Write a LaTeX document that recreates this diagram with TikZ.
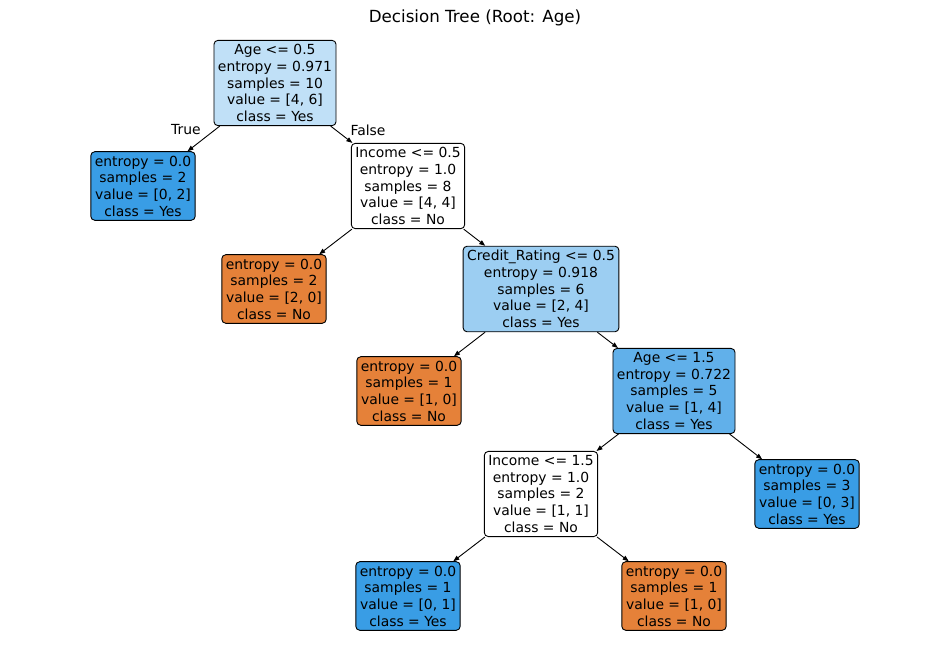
\documentclass[tikz,border=0pt]{standalone}
\usepackage{fontspec}
\setmainfont{DejaVu Sans}
\usetikzlibrary{arrows.meta}
\definecolor{blueA}{HTML}{399DE5}
\definecolor{blueB}{HTML}{61B0EA}
\definecolor{blueC}{HTML}{9CCEF2}
\definecolor{blueD}{HTML}{C0E0F7}
\definecolor{orangeA}{HTML}{E58139}
\begin{document}
\begin{tikzpicture}[x=1pt,y=-1pt,
            > = {Stealth[length=6pt,width=4.5pt,inset=0pt]},
  tree/.style = {draw, rounded corners=4pt, align=center, inner sep=4pt,
                 font=\fontsize{13.9}{16.7}\selectfont, line width=0.9pt},
  edge/.style = {->, line width=0.9pt},
  lbl/.style  = {font=\fontsize{13.9}{16.7}\selectfont}
                        ]
\useasboundingbox (0,0) rectangle (950,658);
\node[font=\fontsize{16.7}{20}\selectfont] (title) at (475,18) {Decision Tree (Root: Age)};
% inner nodes
\node[tree, fill=blueD] (root) at (275,83) {Age <= 0.5\\entropy = 0.971\\samples = 10\\value = [4, 6]\\class = Yes};
\node[tree, fill=white] (inc) at (408,186) {Income <= 0.5\\entropy = 1.0\\samples = 8\\value = [4, 4]\\class = No};
\node[tree, fill=blueC] (cred) at (541,289) {Credit\_Rating <= 0.5\\entropy = 0.918\\samples = 6\\value = [2, 4]\\class = Yes};
\node[tree, fill=blueB] (age) at (674,391) {Age <= 1.5\\entropy = 0.722\\samples = 5\\value = [1, 4]\\class = Yes};
\node[tree, fill=white] (inc2) at (541,494) {Income <= 1.5\\entropy = 1.0\\samples = 2\\value = [1, 1]\\class = No};
% leaves
\node[tree, fill=blueA] (l1) at (143,186) {entropy = 0.0\\samples = 2\\value = [0, 2]\\class = Yes};
\node[tree, fill=orangeA] (l2) at (274,289) {entropy = 0.0\\samples = 2\\value = [2, 0]\\class = No};
\node[tree, fill=orangeA] (l3) at (409,391) {entropy = 0.0\\samples = 1\\value = [1, 0]\\class = No};
\node[tree, fill=blueA] (l4) at (807,494) {entropy = 0.0\\samples = 3\\value = [0, 3]\\class = Yes};
\node[tree, fill=blueA] (l5) at (408,596) {entropy = 0.0\\samples = 1\\value = [0, 1]\\class = Yes};
\node[tree, fill=orangeA] (l6) at (674,596) {entropy = 0.0\\samples = 1\\value = [1, 0]\\class = No};
% edges
\draw[edge] (root) -- (l1);
\draw[edge] (root) -- (inc);
\draw[edge] (inc) -- (l2);
\draw[edge] (inc) -- (cred);
\draw[edge] (cred) -- (l3);
\draw[edge] (cred) -- (age);
\draw[edge] (age) -- (inc2);
\draw[edge] (age) -- (l4);
\draw[edge] (inc2) -- (l5);
\draw[edge] (inc2) -- (l6);
\node[lbl] (t) at (186,130) {True};
\node[lbl] (f) at (368,130) {False};
\end{tikzpicture}
\end{document}
